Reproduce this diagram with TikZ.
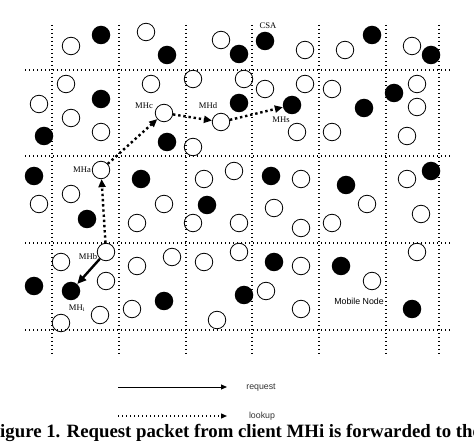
\documentclass[tikz,border=0pt]{standalone}
\usepackage{fontspec}
\setmainfont{Liberation Serif}
\newfontfamily\sansf{Liberation Sans}
\usetikzlibrary{arrows.meta}
\begin{document}
\begin{tikzpicture}[x=1pt,y=-1pt,
  oc/.style={circle,draw=black,line width=0.8pt,minimum size=17.5pt,inner sep=0pt},
  fc/.style={circle,fill=black,minimum size=18.5pt,inner sep=0pt},
  gridline/.style={line width=1.4pt,dash pattern=on 1.4pt off 2.6pt},
  lookarrow/.style={line width=2.4pt,dash pattern=on 2.4pt off 2.8pt,-{Triangle[length=8pt,width=7pt]}},
  reqarrow/.style={line width=2.4pt,-{Triangle[length=9pt,width=8pt]}},
  lbl/.style={font=\fontsize{8.6}{8.6}\selectfont,inner sep=0pt},
  slbl/.style={font=\sansf\fontsize{8.8}{8.8}\selectfont,inner sep=0pt,text=black!80},
]
\useasboundingbox (0,0) rectangle (474,446);
% grid
\foreach \x in {52,119,186,252,319,386,439} \draw[gridline] (\x,25) -- (\x,356);
\foreach \y in {70,156,243,330} \draw[gridline] (25,\y) -- (450,\y);
% row 1
\node[oc] (n1) at (71,46) {};
\node[fc] (n2) at (101,35) {};
\node[oc] (n3) at (146,32) {};
\node[fc] (n4) at (167,55) {};
\node[oc] (n5) at (221,40) {};
\node[fc] (n6) at (239,54) {};
\node[fc] (csa) at (265,41) {};
\node[oc] (n8) at (305,50) {};
\node[oc] (n9) at (345,50) {};
\node[fc] (n10) at (372,35) {};
\node[oc] (n11) at (412,46) {};
\node[fc] (n12) at (431,55) {};
% row 2
\node[oc] (n13) at (66,84) {};
\node[oc] (n14) at (39,104) {};
\node[fc] (n15) at (101,99) {};
\node[oc] (n16) at (71,118) {};
\node[oc] (n17) at (101,132) {};
\node[fc] (n18) at (44,136) {};
\node[oc] (n19) at (151,84) {};
\node[oc] (c) at (164,113) {};
\node[fc] (n21) at (167,142) {};
\node[oc] (n22) at (193,79) {};
\node[oc] (d) at (221,122) {};
\node[oc] (n24) at (193,147) {};
\node[oc] (n25) at (244,79) {};
\node[fc] (n26) at (239,103) {};
\node[oc] (n27) at (265,89) {};
\node[oc] (n28) at (305,84) {};
\node[fc] (s) at (292,105) {};
\node[oc] (n30) at (332,89) {};
\node[fc] (n31) at (364,108) {};
\node[fc] (n32) at (394,93) {};
\node[oc] (n33) at (417,84) {};
\node[oc] (n34) at (417,107) {};
\node[oc] (n35) at (297,132) {};
\node[oc] (n36) at (332,132) {};
\node[oc] (n37) at (407,136) {};
% row 3
\node[fc] (n38) at (34,176) {};
\node[oc] (a) at (101,170) {};
\node[fc] (n40) at (141,179) {};
\node[oc] (n41) at (71,194) {};
\node[oc] (n42) at (39,204) {};
\node[fc] (n43) at (87,219) {};
\node[oc] (n44) at (164,204) {};
\node[oc] (n45) at (137,223) {};
\node[oc] (n46) at (204,179) {};
\node[oc] (n47) at (234,171) {};
\node[fc] (n48) at (207,205) {};
\node[oc] (n49) at (193,223) {};
\node[oc] (n50) at (239,223) {};
\node[fc] (n51) at (271,176) {};
\node[oc] (n52) at (301,179) {};
\node[oc] (n53) at (274,208) {};
\node[oc] (n54) at (301,228) {};
\node[fc] (n55) at (346,185) {};
\node[oc] (n56) at (367,204) {};
\node[oc] (n57) at (332,223) {};
\node[oc] (n58) at (407,179) {};
\node[fc] (n59) at (431,171) {};
\node[oc] (n60) at (421,214) {};
% row 4
\node[oc] (b) at (106,252) {};
\node[oc] (n62) at (61,262) {};
\node[fc] (n63) at (34,286) {};
\node[fc] (i) at (71,291) {};
\node[oc] (n65) at (106,281) {};
\node[oc] (n66) at (137,266) {};
\node[oc] (n67) at (172,257) {};
\node[oc] (n68) at (204,262) {};
\node[fc] (n69) at (164,301) {};
\node[oc] (n70) at (132,309) {};
\node[oc] (n71) at (100,315) {};
\node[oc] (n72) at (61,323) {};
\node[oc] (n73) at (239,252) {};
\node[fc] (n74) at (274,262) {};
\node[oc] (n75) at (301,266) {};
\node[fc] (n76) at (244,295) {};
\node[oc] (n77) at (266,291) {};
\node[oc] (n78) at (301,309) {};
\node[fc] (n79) at (341,266) {};
\node[oc] (n80) at (372,281) {};
\node[oc] (n81) at (417,252) {};
\node[fc] (n82) at (412,309) {};
\node[oc] (n83) at (217,320) {};
% labels
\node[lbl] (lcsa) at (268,26) {CSA};
\node[lbl] (lc) at (144,106) {MHc};
\node[lbl] (ld) at (208,106) {MHd};
\node[lbl] (ls) at (281,120) {MHs};
\node[lbl] (la) at (82,170) {MHa};
\node[lbl] (lb) at (88,257) {MHb};
\node[lbl] (li) at (77,308) {MH\textsubscript{i}};
\node[slbl,text=black] (lmn) at (359,301) {Mobile Node};
% path arrows
\draw[lookarrow] (b) -- (a);
\draw[lookarrow] (a) -- (c);
\draw[lookarrow] (c) -- (d);
\draw[lookarrow] (d) -- (s);
\draw[reqarrow] (b) -- (i);
% legend
\coordinate (r1) at (118,387);
\coordinate (r2) at (227,387);
\draw[line width=0.8pt,-{Triangle[length=6pt,width=5pt]}] (r1) -- (r2);
\node[slbl] (rq) at (261,388) {request};
\coordinate (k1) at (118,416);
\coordinate (k2) at (227,416);
\draw[line width=1.2pt,dash pattern=on 1.2pt off 2.8pt,-{Triangle[length=6pt,width=5pt]}] (k1) -- (k2);
\node[slbl] (lk) at (262,416) {lookup};
% caption
\node[anchor=base west,inner sep=0pt,font=\bfseries\fontsize{18.8}{18.8}\selectfont] (cap) at (0,437) {\llap{F}igure 1. Request packet from client MHi is forwarded to the};
\end{tikzpicture}
\end{document}
